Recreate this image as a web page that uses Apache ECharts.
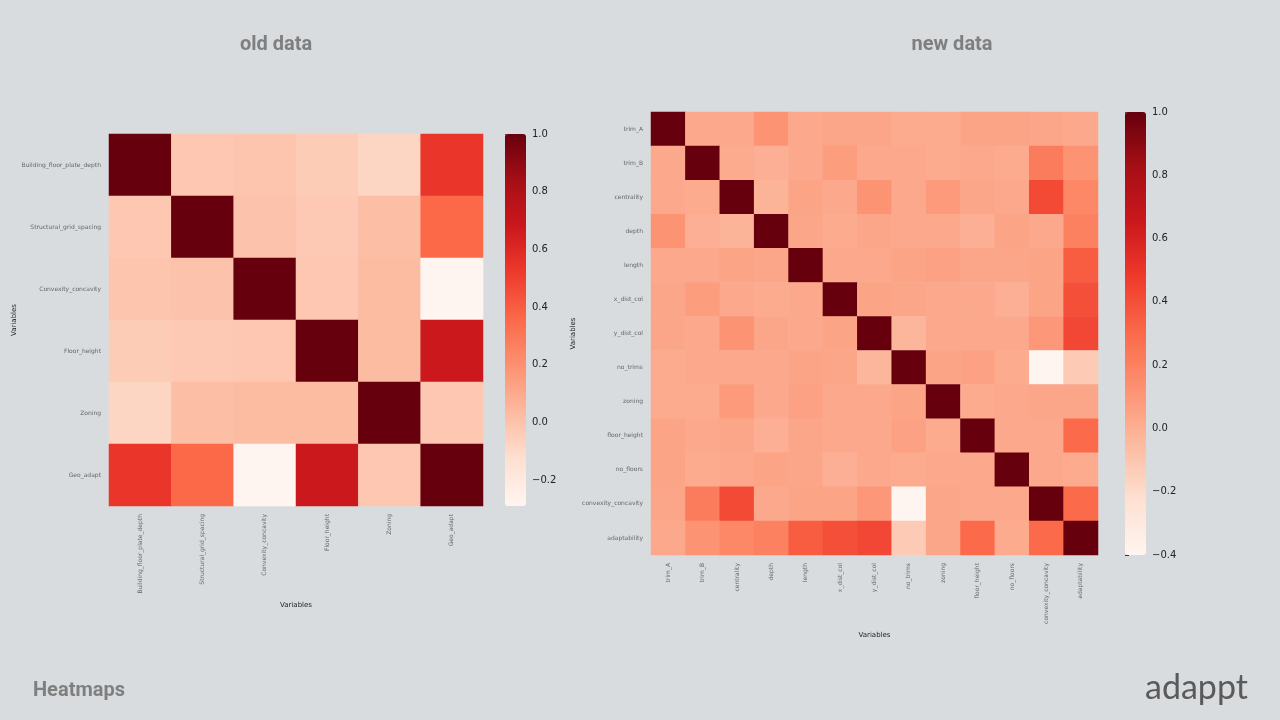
<!DOCTYPE html>
<html><head><meta charset="utf-8">
<script src="https://cdn.jsdelivr.net/npm/echarts@6/dist/echarts.min.js"></script>
<style>html,body{margin:0;background:#d9dcdf}#c{width:1280px;height:720px}</style>
</head><body><div id="c"></div>
<script>
const oldVars = ['Building_floor_plate_depth','Structural_grid_spacing','Convexity_concavity','Floor_height','Zoning','Geo_adapt'];
const oldMatrix = [
 [1.00,-0.02,-0.01,-0.04,-0.08,0.54],
 [-0.02,1.00,0.00,-0.03,0.02,0.36],
 [-0.01,0.00,1.00,-0.02,0.03,-0.29],
 [-0.04,-0.03,-0.02,1.00,0.03,0.68],
 [-0.08,0.02,0.03,0.03,1.00,-0.02],
 [0.54,0.36,-0.29,0.68,-0.02,1.00]
];
const newVars = ['trim_A','trim_B','centrality','depth','length','x_dist_col','y_dist_col','no_trims','zoning','floor_height','no_floors','convexity_concavity','adaptability'];
const newUpper = [
 [0.03,0.03,0.12,0.03,0.04,0.04,0.02,0.02,0.05,0.05,0.04,0.03],
 [0.02,0.00,0.03,0.08,0.03,0.03,0.02,0.03,0.02,0.22,0.12],
 [-0.02,0.05,0.03,0.12,0.03,0.09,0.04,0.03,0.42,0.17],
 [0.04,0.02,0.04,0.03,0.03,0.00,0.05,0.03,0.20],
 [0.03,0.03,0.05,0.06,0.04,0.04,0.05,0.35],
 [0.05,0.04,0.03,0.03,0.00,0.05,0.40],
 [-0.03,0.03,0.03,0.03,0.10,0.43],
 [0.05,0.06,0.02,-0.40,-0.12],
 [0.02,0.03,0.04,0.04],
 [0.03,0.03,0.30],
 [0.03,0.02],
 [0.30]
];
const oldTicks = [-0.2,0,0.2,0.4,0.6,0.8,1.0];
const newTicks = [-0.4,-0.2,0,0.2,0.4,0.6,0.8,1.0];

function cells(vars, get){const d=[];for(let i=0;i<vars.length;i++)for(let j=0;j<vars.length;j++)d.push([j,i,get(i,j)]);return d;}
const oldData = cells(oldVars,(i,j)=>oldMatrix[i][j]);
const newData = cells(newVars,(i,j)=>i===j?1:(i<j?newUpper[i][j-i-1]:newUpper[j][i-j-1]));
const reds=['#fff5f0','#fee0d2','#fcbba1','#fc9272','#fb6a4a','#ef3b2c','#cb181d','#a50f15','#67000d'];
const fmt=v=>(Math.abs(v)<1e-9?'0.0':v.toFixed(1)).replace('-','\u2212');
const lab={fontSize:6,color:'#666',fontFamily:'DejaVu Sans'};
const nameSt={fontSize:7,color:'#222',fontFamily:'DejaVu Sans'};
const G=[{left:109,top:134,width:374,height:372},{left:651,top:112,width:447,height:443},
 {left:505,top:134,width:21,height:372},{left:1125,top:112,width:21,height:443}];
const catX=(g,vars)=>({type:'category',gridIndex:g,data:vars,axisLine:{show:false},axisTick:{show:false},splitArea:{show:false},
  axisLabel:Object.assign({rotate:90,interval:0},lab),name:'Variables',nameLocation:'middle',nameGap:g===0?78:72,nameTextStyle:nameSt});
const catY=(g,vars)=>({type:'category',gridIndex:g,data:vars,inverse:true,axisLine:{show:false},axisTick:{show:false},
  axisLabel:Object.assign({interval:0},lab),name:'Variables',nameLocation:'middle',nameGap:g===0?78:74,nameTextStyle:nameSt});
const barAxis=(g,min,ticks)=>({type:'value',gridIndex:g,position:'right',min:min,max:1,axisLine:{show:false},splitLine:{show:false},
  axisTick:{show:true,length:4,lineStyle:{color:'#333'},customValues:ticks},
  axisLabel:{fontSize:10,color:'#222',customValues:ticks,formatter:fmt,margin:6,fontFamily:'DejaVu Sans'}});
const opt={
 backgroundColor:'#d9dcdf',animation:false,
 title:[{text:'old data',left:271,top:30,textAlign:'center',textStyle:{color:'#7f7f7f',fontSize:20,fontWeight:'bold',fontFamily:'Roboto'}},
  {text:'new data',left:947,top:30,textAlign:'center',textStyle:{color:'#7f7f7f',fontSize:20,fontWeight:'bold',fontFamily:'Roboto'}},
  {text:'Heatmaps',left:28,top:676,textStyle:{color:'#7f7f7f',fontSize:20,fontWeight:'bold',fontFamily:'Roboto'}},
  {text:'adappt',left:1140,top:666,textStyle:{color:'#5a5a5a',fontSize:34,fontWeight:'normal',fontFamily:'Lato'}}],
 grid:G,
 xAxis:[catX(0,oldVars),catX(1,newVars),{type:'value',gridIndex:2,show:false},{type:'value',gridIndex:3,show:false}],
 yAxis:[catY(0,oldVars),catY(1,newVars),barAxis(2,-0.29,oldTicks),barAxis(3,-0.4,newTicks)],
 visualMap:[{type:'continuous',seriesIndex:0,min:-0.29,max:1,left:505,top:134,padding:0,itemWidth:21,itemHeight:372,showLabel:false,calculable:false,inRange:{color:reds}},
  {type:'continuous',seriesIndex:1,min:-0.4,max:1,left:1125,top:112,padding:0,itemWidth:21,itemHeight:443,showLabel:false,calculable:false,inRange:{color:reds}}],
 series:[{type:'heatmap',xAxisIndex:0,yAxisIndex:0,data:oldData,itemStyle:{borderWidth:0}},
  {type:'heatmap',xAxisIndex:1,yAxisIndex:1,data:newData,itemStyle:{borderWidth:0}}]
};
echarts.init(document.getElementById('c')).setOption(opt);
</script></body></html>
